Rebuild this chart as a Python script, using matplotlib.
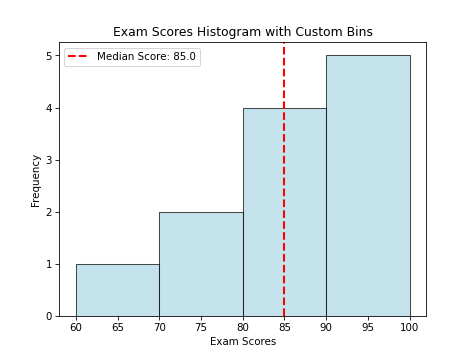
import numpy as np
import matplotlib
matplotlib.use("Agg")
import matplotlib.pyplot as plt

# exam scores (counts per bin: 1, 2, 4, 5)
scores = [65, 72, 78, 81, 83, 84, 86, 91, 93, 95, 97, 99]
bins = [60, 70, 80, 90, 100]

median_score = np.median(scores)

fig, ax = plt.subplots(figsize=(6.4, 4.8), dpi=74)
ax.hist(scores, bins=bins, color="lightblue", edgecolor="black", alpha=0.7)
ax.axvline(median_score, color="red", linestyle="dashed", linewidth=2,
           label=f"Median Score: {median_score}")

ax.set_title("Exam Scores Histogram with Custom Bins")
ax.set_xlabel("Exam Scores")
ax.set_ylabel("Frequency")
ax.legend(loc="upper left")

plt.savefig("out.png", dpi=74)
